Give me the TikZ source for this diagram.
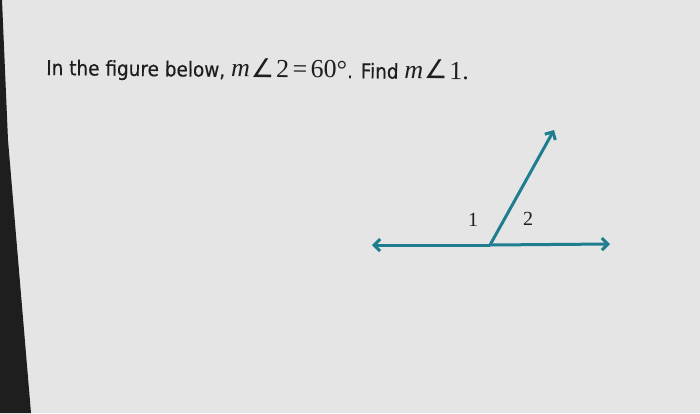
\documentclass[tikz,border=0pt]{standalone}
\usepackage{graphicx}
\usepackage{fontspec}
\setmainfont{DejaVu Sans}
\newfontfamily\qfont{DejaVu Sans}[FakeBold=0.4]
\newfontfamily\tserif{Liberation Serif}
\newfontfamily\angfont{DejaVu Sans}
\usetikzlibrary{arrows.meta}
\definecolor{bg}{RGB}{229,229,229}
\definecolor{bezel}{RGB}{30,30,30}
\definecolor{ink}{RGB}{30,30,30}
\definecolor{teal}{RGB}{30,125,142}
\newcommand\mathpart[1]{{\fontsize{26}{26}\selectfont\scalebox{1.11}[1]{#1}}}
\tikzset{
  ray/.style={draw=teal, line width=3pt, -{Straight Barb[length=6pt,width=12pt]}},
  lbl/.style={font=\tserif\fontsize{20}{20}\selectfont, text=ink, inner sep=0pt},
  question/.style={font=\qfont\fontsize{20.5}{20.5}\selectfont, text=ink, inner sep=0pt, anchor=base west, rotate=-0.6}
}
\begin{document}
\begin{tikzpicture}[x=1pt,y=-1pt]
\useasboundingbox (0,0) rectangle (700,413);
\fill[bg] (0,0) rectangle (700,413);
\fill[bezel] (0,0) -- (2,0) -- (8,140) -- (31,413) -- (0,413) -- cycle;
\node[question] (q) at (46,75) {\scalebox{0.9}[1]{In the figure below, \mathpart{{\tserif\itshape m}\kern1pt{\angfont ∠}\kern2pt{\tserif 2\kern3.5pt=\kern3.5pt60°}}. Find \mathpart{{\tserif\itshape m}\kern1pt{\angfont ∠}\kern2pt{\tserif 1.}}}};
\coordinate (v) at (490,245);
\coordinate (l) at (372,245);
\coordinate (r) at (610,244);
\coordinate (t) at (554,130);
\draw[ray] (v) -- (l);
\draw[ray] (v) -- (r);
\draw[ray] (v) -- (t);
\node[lbl] (one) at (473,220) {1};
\node[lbl] (two) at (528,219) {2};
\end{tikzpicture}
\end{document}
